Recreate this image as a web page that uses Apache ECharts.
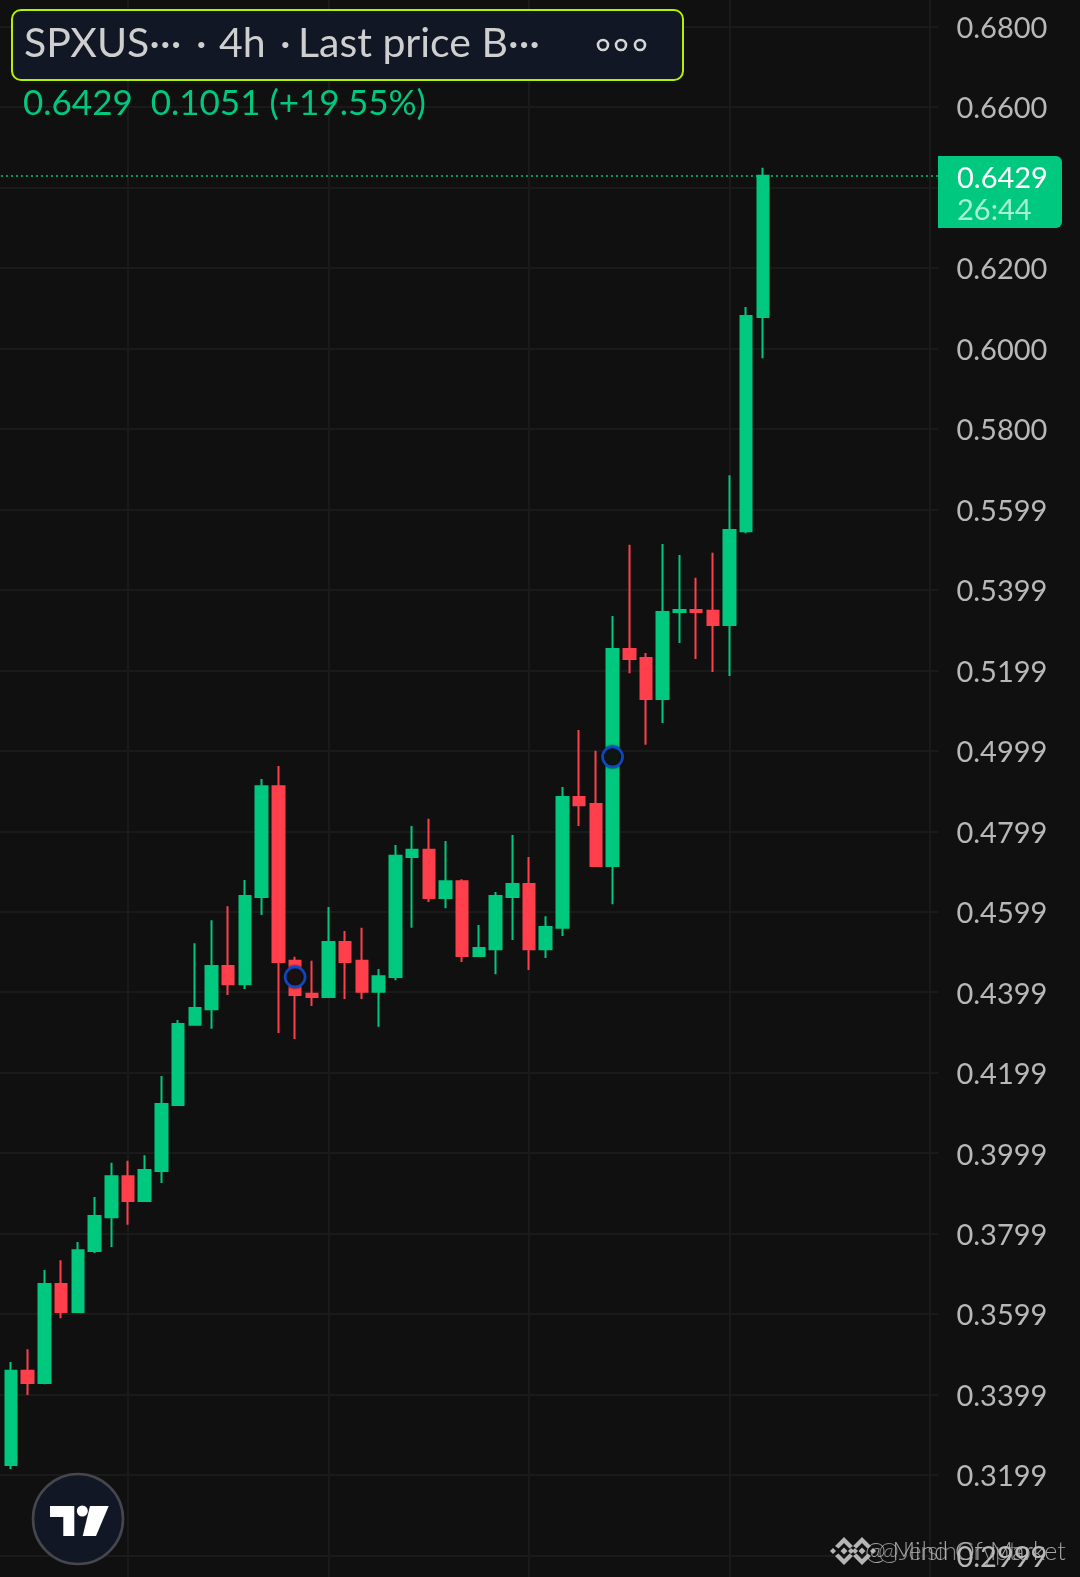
<!DOCTYPE html>
<html><head><meta charset="utf-8">
<style>html,body{margin:0;padding:0;background:#101010}#c{width:1080px;height:1577px}</style>
<script src="https://cdn.jsdelivr.net/npm/echarts@6/dist/echarts.min.js"></script>
</head><body><div id="c"></div>
<script>
// Values (one per 4h candle)
const opens  = [.3225,.3459,.3429,.3675,.3605,.3757,.3841,.3943,.3881,.3956,.4120,.4319,.4358,.4465,.4420,.4637,.4912,.4478,.4396,.4388,.4525,.4478,.4401,.4438,.4736,.4754,.4634,.4676,.4490,.4507,.4637,.4669,.4507,.4560,.4885,.4868,.4714,.5253,.5231,.5129,.5345,.5350,.5348,.5313,.5546,.6078];
const closes = [.3459,.3429,.3675,.3605,.3759,.3844,.3943,.3881,.3958,.4122,.4321,.4361,.4465,.4420,.4639,.4912,.4475,.4393,.4388,.4525,.4475,.4401,.4440,.4739,.4754,.4634,.4676,.4490,.4510,.4639,.4669,.4507,.4562,.4885,.4865,.4714,.5253,.5228,.5129,.5345,.5350,.5345,.5313,.5549,.6081,.6429];
const lows   = [.3215,.3399,.3426,.3590,.3603,.3752,.3767,.3822,.3881,.3926,.4117,.4319,.4309,.4393,.4408,.4592,.4299,.4284,.4366,.4388,.4383,.4383,.4314,.4430,.4560,.4624,.4609,.4475,.4488,.4445,.4530,.4455,.4485,.4540,.4813,.4711,.4619,.5193,.5015,.5069,.5268,.5228,.5196,.5186,.5541,.5976];
const highs  = [.3481,.3513,.3710,.3734,.3779,.3891,.3976,.3981,.3995,.4192,.4331,.4522,.4579,.4614,.4679,.4930,.4962,.4488,.4478,.4612,.4552,.4560,.4458,.4766,.4813,.4831,.4776,.4681,.4567,.4649,.4791,.4736,.4589,.4910,.5052,.5000,.5335,.5512,.5243,.5514,.5487,.5430,.5492,.5685,.6103,.6449];
const markerCandles = [17, 36];
const markerPrices  = [.4438, .4985];
const lastPrice = 0.6429;
const tickValues = ['0.68','0.66','0.62','0.60','0.58','0.56','0.54','0.52','0.50','0.48','0.46','0.44','0.42','0.40','0.38','0.36','0.34','0.32','0.30'];
const tickLabels = ['0.6800','0.6600','0.6200','0.6000','0.5800','0.5599','0.5399','0.5199','0.4999','0.4799','0.4599','0.4399','0.4199','0.3999','0.3799','0.3599','0.3399','0.3199','0.2999'];
const titleParts = ['SPXUS···', '·', '4h', '·', 'Last price B···'];
const quote = '0.6429  0.1051 (+19.55%)';
const countdown = '26:44';

const LEAD = 1, TRAIL = 10, GRIDEVERY = 12;
const total = LEAD + opens.length + TRAIL;
const categories = [];
for (let i = 0; i < total; i++) categories.push('c' + i);
const candle = [];
for (let i = 0; i < total; i++) {
  const k = i - LEAD;
  candle.push(k >= 0 && k < opens.length ? [opens[k], closes[k], lows[k], highs[k]] : '-');
}
const UP = '#00C87E', DOWN = '#FF3F4C', BG = '#101010', GRID = '#1a1a1a';
const FONT = 'Lato';
const labelMap = {};
tickValues.forEach((t, i) => labelMap[t] = tickLabels[i]);

const LOGO = '#b5b5b5';
const diamond = (cx, cy, r) => ({type:'polygon', z:60, shape:{points:[[cx,cy-r],[cx+r,cy],[cx,cy+r],[cx-r,cy]]}, style:{fill:LOGO}});
const chevron = (cx, cy, s) => ({type:'polygon', z:60, shape:{points:[[cx,cy+s*14],[cx+9,cy+s*5],[cx+5.5,cy+s*2.5],[cx,cy+s*8],[cx-5.5,cy+s*2.5],[cx-9,cy+s*5]]}, style:{fill:LOGO}});
const binance = (cx, cy) => [diamond(cx,cy,3.5), diamond(cx-11,cy,3), diamond(cx+11,cy,3), chevron(cx,cy,-1), chevron(cx,cy,1)];
const titleX = [24, 196, 219, 280, 298];
const titleText = (t, i) => ({type:'text', z:51, style:{x:titleX[i],y:44,text:t,fill:'#cfcfcf',font:'400 41px '+FONT,textVerticalAlign:'middle'}});

const chart = echarts.init(document.getElementById('c'), null, {renderer:'canvas', width:1080, height:1577});
chart.setOption({
  backgroundColor: BG,
  animation: false,
  grid: {left:-14.06, top:-53.88, width:952.47, height:1689.9, containLabel:false, outerBoundsMode:'none'},
  xAxis: {type:'category', data:categories, boundaryGap:true,
    axisLine:{show:false}, axisTick:{show:false}, axisLabel:{show:false},
    splitLine:{show:true, alignWithLabel:true, interval:(i)=> (i-8)%GRIDEVERY===0 && i>=8, lineStyle:{color:GRID,width:2}}},
  yAxis: {type:'value', position:'right', min:0.28, max:0.70, interval:0.02, scale:true,
    axisLine:{show:false}, axisTick:{show:false},
    axisLabel:{margin:18, align:'left',
      rich:{t:{color:'#b8b8b8', fontFamily:FONT, fontSize:29, fontWeight:400, padding:[4,0,0,0]}},
      formatter:(v)=> labelMap[v.toFixed(2)] ? '{t|' + labelMap[v.toFixed(2)] + '}' : ''},
    splitLine:{show:true, lineStyle:{color:GRID,width:2}}},
  series: [
    {type:'candlestick', data:candle, barWidth:12, z:3,
      itemStyle:{color:UP, color0:DOWN, borderColor:UP, borderColor0:DOWN, borderColorDoji:UP, borderWidth:2},
      markLine:{silent:true, symbol:'none', animation:false, z:4, precision:4, label:{show:false},
        lineStyle:{color:UP, type:[2,3], width:1.6}, data:[{yAxis:lastPrice}]}},
    {type:'scatter', z:6, symbol:'circle', symbolSize:20,
      itemStyle:{color:BG, borderColor:'#0F55E8', borderWidth:2.8, shadowColor:'#0b0b0b', shadowBlur:2},
      data: markerCandles.map((k,i)=>[k+LEAD, markerPrices[i]])}
  ],
  graphic: [
    {type:'rect', z:50, shape:{x:12,y:10,width:671,height:70,r:9}, style:{fill:'#121725',stroke:'#B4F000',lineWidth:2}},
    ...titleParts.map(titleText),
    {type:'circle', z:51, shape:{cx:603,cy:45,r:5}, style:{fill:'none',stroke:'#d6d6d6',lineWidth:2.6}},
    {type:'circle', z:51, shape:{cx:621,cy:45,r:5}, style:{fill:'none',stroke:'#d6d6d6',lineWidth:2.6}},
    {type:'circle', z:51, shape:{cx:640,cy:45,r:5}, style:{fill:'none',stroke:'#d6d6d6',lineWidth:2.6}},
    {type:'text', z:51, style:{x:23,y:104,text:quote,fill:UP,font:'400 35px '+FONT,textVerticalAlign:'middle'}},
    {type:'rect', z:50, shape:{x:938,y:156,width:124,height:72,r:[0,6,6,0]}, style:{fill:UP}},
    {type:'text', z:51, style:{x:957,y:179,text:lastPrice.toFixed(4),fill:'#ffffff',font:'400 29px '+FONT,textVerticalAlign:'middle'}},
    {type:'text', z:51, style:{x:957,y:211,text:countdown,fill:'#A8F0D6',font:'400 29px '+FONT,textVerticalAlign:'middle'}},
    {type:'circle', z:50, shape:{cx:78,cy:1519,r:45}, style:{fill:'#121725',stroke:'#45474d',lineWidth:2.6}},
    {type:'polygon', z:51, shape:{points:[[50,1506],[74.3,1506],[74.3,1536],[63.3,1536],[63.3,1517],[50,1517]]}, style:{fill:'#fff'}},
    {type:'circle', z:51, shape:{cx:82.3,cy:1511,r:5.5}, style:{fill:'#fff'}},
    {type:'polygon', z:51, shape:{points:[[90,1506],[108.7,1506],[96,1536],[82.7,1536]]}, style:{fill:'#fff'}},
    ...binance(844,1551), ...binance(862,1551),
    {type:'text', z:61, style:{x:865,y:1552,text:'@ Mind Of Market',fill:'rgba(190,190,190,.85)',font:'300 25px '+FONT,textVerticalAlign:'middle'}},
    {type:'text', z:61, style:{x:878,y:1552,text:'@JelsinCrypto',fill:'rgba(190,190,190,.7)',font:'300 25px '+FONT,textVerticalAlign:'middle'}}
  ]
});
</script></body></html>
